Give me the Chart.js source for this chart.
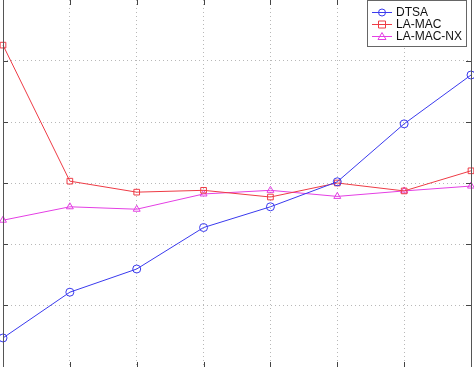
<!DOCTYPE html>
<html>
<head>
<meta charset="utf-8">
<script src="https://cdn.jsdelivr.net/npm/chart.js@4"></script>
<style>
html,body{margin:0;padding:0;background:#fff;}
#wrap{position:relative;width:474px;height:367px;}
</style>
</head>
<body>
<div id="wrap"><canvas id="c" width="474" height="367"></canvas></div>
<script>
// x positions (index) (arbitrary units, 6 grid intervals)
const xValues = [0, 1, 2, 3, 4, 5, 6, 7];
const dtsa    = [0.46, 1.21, 1.59, 2.27, 2.61, 3.02, 3.97, 4.77];
const laMac   = [5.26, 3.03, 2.85, 2.88, 2.77, 3.00, 2.87, 3.20];
const laMacNx = [2.39, 2.61, 2.57, 2.82, 2.88, 2.78, 2.87, 2.95];
const seriesNames = ['DTSA', 'LA-MAC', 'LA-MAC-NX'];

const colors = ['#3a3aee', '#ee3b45', '#e43fe4'];
const shapes = ['circle', 'rect', 'triangle'];

function pts(arr){ return arr.map((v,i)=>({x:xValues[i], y:v})); }

const frame = {
  id:'frame',
  afterDraw(chart){
    const {ctx, chartArea:a, scales} = chart;
    ctx.save();
    // inward ticks
    ctx.strokeStyle = '#444';
    ctx.lineWidth = 1;
    ctx.beginPath();
    for (let t = 0; t <= 7; t++) {
      const x = Math.round(scales.x.getPixelForValue(t)) + 0.5;
      ctx.moveTo(x, a.bottom + 1); ctx.lineTo(x, a.bottom - 4);
      ctx.moveTo(x, a.top); ctx.lineTo(x, a.top + 5);
    }
    for (let t = 1; t <= 5; t++) {
      const y = Math.round(scales.y.getPixelForValue(t)) + 0.5;
      ctx.moveTo(a.left, y); ctx.lineTo(a.left + 5, y);
      ctx.moveTo(a.right, y); ctx.lineTo(a.right - 5, y);
    }
    ctx.stroke();
    // left and right axis lines (top/bottom fall outside the picture)
    ctx.strokeStyle = '#555';
    ctx.beginPath();
    const lx = Math.round(a.left) + 0.5, rx = Math.round(a.right) + 0.5;
    ctx.moveTo(lx, 0); ctx.lineTo(lx, chart.height);
    ctx.moveTo(rx, 0); ctx.lineTo(rx, chart.height);
    ctx.stroke();
    // legend box
    const bx = 367.5, by = 0.5, bw = 99, bh = 46;
    ctx.fillStyle = '#fff';
    ctx.fillRect(bx, by, bw, bh);
    ctx.strokeStyle = '#666';
    ctx.strokeRect(bx, by, bw, bh);
    ctx.font = '12px "Liberation Sans", Arial, sans-serif';
    ctx.textBaseline = 'middle';
    const rows = [12.5, 24.5, 36.5];
    chart.data.datasets.forEach((ds, i) => {
      const y = rows[i];
      ctx.strokeStyle = ds.borderColor;
      ctx.lineWidth = 1;
      ctx.beginPath(); ctx.moveTo(372, y); ctx.lineTo(392, y); ctx.stroke();
      ctx.beginPath();
      const cx = 382;
      if (shapes[i] === 'circle') { ctx.arc(cx, y, 3.5, 0, Math.PI*2); }
      else if (shapes[i] === 'rect') { ctx.rect(cx-3.5, y-3.5, 7, 7); }
      else { ctx.moveTo(cx, y-4); ctx.lineTo(cx+4, y+3); ctx.lineTo(cx-4, y+3); ctx.closePath(); }
      ctx.stroke();
      ctx.fillStyle = '#111';
      ctx.fillText(ds.label, 396, y + 0.5);
    });
    ctx.restore();
  }
};

const gridColor = c => (c.tick && (c.tick.value === 0 || c.tick.value === 6)) ? 'rgba(0,0,0,0)' : '#b8b8b8';

new Chart(document.getElementById('c'), {
  type: 'line',
  data: {
    datasets: [dtsa, laMac, laMacNx].map((arr, i) => ({
      label: seriesNames[i],
      data: pts(arr),
      borderColor: colors[i],
      backgroundColor: 'rgba(0,0,0,0)',
      borderWidth: 1,
      pointStyle: shapes[i],
      pointRadius: 4,
      pointBorderWidth: 1,
      pointBackgroundColor: 'rgba(0,0,0,0)',
      pointBorderColor: colors[i],
      tension: 0,
      clip: false
    }))
  },
  options: {
    responsive: false,
    animation: false,
    layout: { autoPadding: false, padding: { left: 3, right: 3, top: 0, bottom: 1 } },
    plugins: { legend: { display: false }, tooltip: { enabled: false } },
    scales: {
      x: {
        type: 'linear', min: 0, max: 7,
        ticks: { display: false, stepSize: 1 },
        grid: { color: '#b8b8b8', drawTicks: false, lineWidth: 1 },
        border: { display: false, dash: [1, 3] }
      },
      y: {
        min: 0, max: 6,
        ticks: { display: false, stepSize: 1 },
        grid: { color: gridColor, drawTicks: false, lineWidth: 1 },
        border: { display: false, dash: [1, 3] }
      }
    }
  },
  plugins: [frame]
});
</script>
</body>
</html>
